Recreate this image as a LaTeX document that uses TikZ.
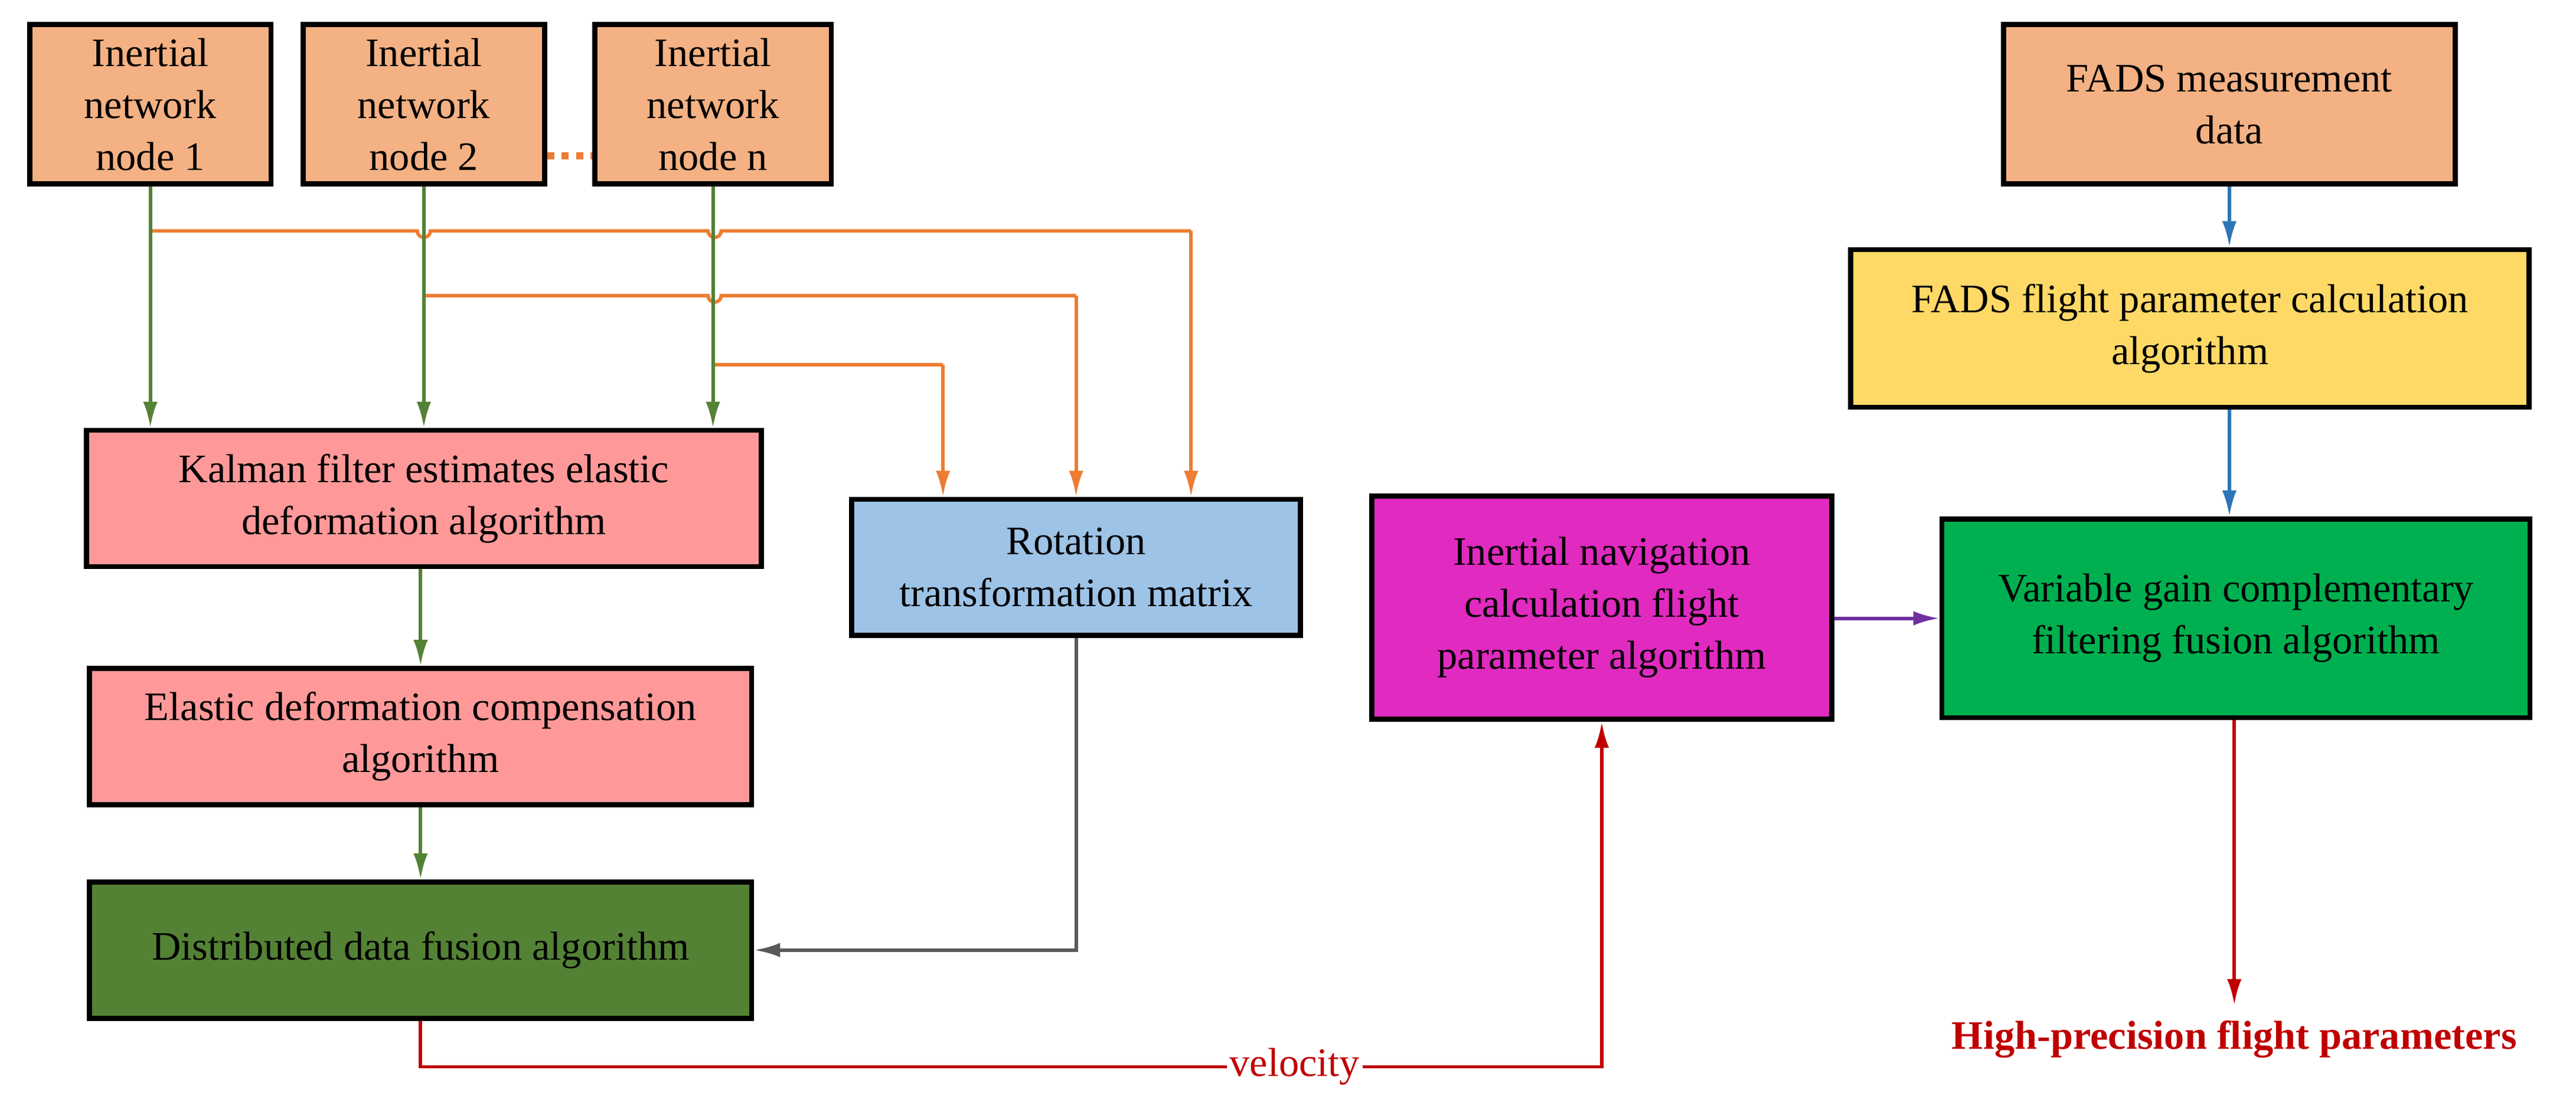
\documentclass[tikz,border=0pt]{standalone}
\usepackage{fontspec}
\setmainfont{Liberation Serif}
\usetikzlibrary{arrows.meta}
\definecolor{cOrFill}{HTML}{F4B183}
\definecolor{cPink}{HTML}{FF9999}
\definecolor{cBlue}{HTML}{9DC3E6}
\definecolor{cDkGreen}{HTML}{548235}
\definecolor{cGreen}{HTML}{00B050}
\definecolor{cYellow}{HTML}{FFD966}
\definecolor{cMag}{HTML}{E02AC0}
\definecolor{cOrLine}{HTML}{ED7D31}
\definecolor{cBlLine}{HTML}{2E75B6}
\definecolor{cRed}{HTML}{C00000}
\definecolor{cPurple}{HTML}{7030A0}
\definecolor{cGray}{HTML}{595959}
\begin{document}
\begin{tikzpicture}[x=0.02cm,y=-0.02cm,
    box/.style={draw=black,line width=1.8pt,align=center,inner sep=2pt,
        font=\fontsize{14}{18}\selectfont},
    arr/.style={line width=1.2pt,-{Latex[length=9pt,width=5pt]}},
    ln/.style={line width=1.2pt}]
\useasboundingbox (0,0) rectangle (1568,675);
% sensor nodes
\node[box,fill=cOrFill,minimum width=2.94cm,minimum height=1.94cm] (n1) at (91.5,63.5) {Inertial\\network\\node 1};
\node[box,fill=cOrFill,minimum width=2.94cm,minimum height=1.94cm] (n2) at (258,63.5) {Inertial\\network\\node 2};
\node[box,fill=cOrFill,minimum width=2.88cm,minimum height=1.94cm] (nn) at (434,63.5) {Inertial\\network\\node n};
\node[box,fill=cOrFill,minimum width=5.5cm,minimum height=1.94cm] (fm) at (1357,63.5) {FADS measurement\\data};
% algorithm boxes
\node[box,fill=cYellow,minimum width=8.26cm,minimum height=1.92cm] (ff) at (1333,200) {FADS flight parameter calculation\\algorithm};
\node[box,fill=cPink,minimum width=8.22cm,minimum height=1.66cm] (kal) at (258,303.5) {Kalman filter estimates elastic\\deformation algorithm};
\node[box,fill=cBlue,minimum width=5.46cm,minimum height=1.66cm] (rot) at (655,345.5) {Rotation\\transformation matrix};
\node[box,fill=cPink,minimum width=8.06cm,minimum height=1.66cm] (ela) at (256,448.5) {Elastic deformation compensation\\algorithm};
\node[box,fill=cDkGreen,minimum width=8.06cm,minimum height=1.66cm] (dis) at (256,578.5) {Distributed data fusion algorithm};
\node[box,fill=cMag,minimum width=5.6cm,minimum height=2.72cm] (ins) at (975,370) {Inertial navigation\\calculation flight\\parameter algorithm};
\node[box,fill=cGreen,minimum width=7.16cm,minimum height=2.42cm] (vg) at (1361,376.5) {Variable gain complementary\\filtering fusion algorithm};
\node[text=cRed,font=\bfseries\fontsize{14}{18}\selectfont] (hp) at (1360,633) {High-precision flight parameters};
\coordinate (vb) at (1360,612);
% dots between node 2 and node n
\draw[cOrLine,line width=2.5pt,dash pattern=on 2.5pt off 2.5pt] (n2.east|-0,95) -- (nn.west|-0,95);
% orange branches with jumps
\draw[ln,cOrLine] (91,140.6) -- (254,140.6) arc (180:0:4) -- (431,140.6) arc (180:0:4) -- (725,140.6) coordinate (o1);
\draw[arr,cOrLine] (o1) -- (o1|-rot.north);
\draw[ln,cOrLine] (258,180) -- (431,180) arc (180:0:4) -- (655,180) coordinate (o2);
\draw[arr,cOrLine] (o2) -- (o2|-rot.north);
\draw[ln,cOrLine] (434,222) -- (574,222) coordinate (o3);
\draw[arr,cOrLine] (o3) -- (o3|-rot.north);
% green arrows
\draw[arr,cDkGreen] (n1.south) -- (n1.south|-kal.north);
\draw[arr,cDkGreen] (n2.south) -- (n2.south|-kal.north);
\draw[arr,cDkGreen] (nn.south) -- (nn.south|-kal.north);
\draw[arr,cDkGreen] (kal.south-|ela.north) -- (ela.north);
\draw[arr,cDkGreen] (ela.south) -- (dis.north);
% gray
\draw[arr,cGray] (rot.south) |- (dis.east);
% red velocity
\draw[arr,cRed] (dis.south) -- ++(0,28) -| (ins.south)
    node[pos=0.37,fill=white,inner sep=1pt,text=cRed,font=\fontsize{14}{18}\selectfont] {velocity};
% right side
\draw[arr,cBlLine] (fm.south) -- (fm.south|-ff.north);
\draw[arr,cBlLine] (ff.south-|fm.south) -- (fm.south|-vg.north);
\draw[arr,cPurple] (ins.east|-vg.west) -- (vg.west);
\draw[arr,cRed] (vg.south-|vb) -- (vb);
\end{tikzpicture}
\end{document}
